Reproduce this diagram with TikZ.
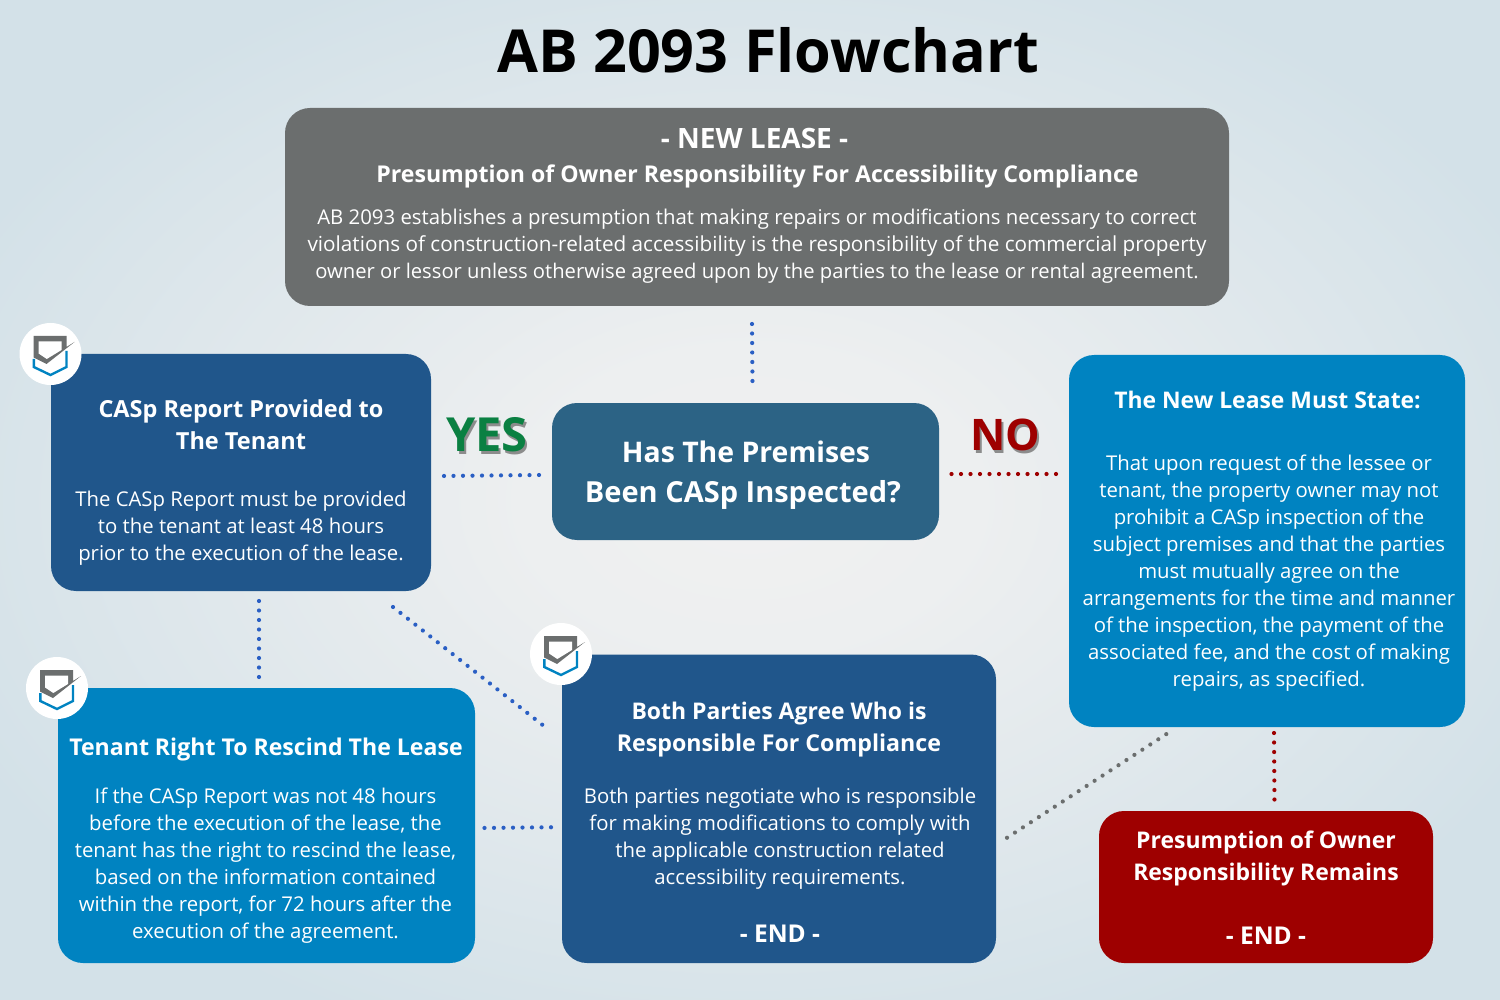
\documentclass[tikz,border=0pt]{standalone}
\usepackage{fontspec}
\setmainfont{Open Sans}
\usetikzlibrary{calc}
\definecolor{bgout}{HTML}{D3E1E8}
\definecolor{bgin}{HTML}{F1F1F1}
\definecolor{greybox}{HTML}{6B6E6E}
\definecolor{tealbox}{HTML}{2C6385}
\definecolor{navybox}{HTML}{20568B}
\definecolor{bluebox}{HTML}{0083C1}
\definecolor{redbox}{HTML}{9E0000}
\definecolor{dotblue}{HTML}{2A5FC4}
\definecolor{yesgreen}{HTML}{0A8042}
\pgfdeclareradialshading{bgshade}{\pgfpoint{0bp}{0bp}}{%
  color(0bp)=(bgin); color(8bp)=(bgin!85!bgout); color(18bp)=(bgin!45!bgout); color(29bp)=(bgout); color(50bp)=(bgout)}
\newcommand{\bodyfs}{\fontsize{20.35}{27}\selectfont}
\newcommand{\linefs}[1]{\fontsize{#1}{27}\selectfont}
\newcommand{\headsize}[1]{\fontsize{#1}{32}\selectfont\bfseries}
\tikzset{
  x=1pt,y=-1pt,
  box/.style={rounded corners=25pt,inner sep=0pt,outer sep=0pt,anchor=north west},
  head/.style={text=white,align=center,inner sep=0pt,font=\headsize{23.1}},
  bodytxt/.style={text=white,align=center,inner sep=0pt,font=\bodyfs},
  dots/.style={line width=4.2pt,line cap=round,dash pattern=on 0pt off 9.5pt},
  badge/.style={circle,fill=white,minimum size=62pt,inner sep=0pt}
}
\newcommand{\logoat}[1]{%
  \begin{scope}[shift={(#1)}]
    \draw[bluebox,line width=2.4pt,line join=miter] (-16.7,5) -- (-16.7,13) -- (0,21) -- (16,13) -- (16,-3);
    \fill[greybox] (-17,-18) -- (16,-18) -- (16,-7) -- (24,-12) -- (-4,10) -- (-17,3.5) -- cycle;
    \fill[white] (-12,-12.5) -- (11,-12.5) -- (11,-4) -- (-3.7,5) -- (-12,-0.5) -- cycle;
  \end{scope}}
\newcommand{\verdictlabel}[5]{%
  \node[inner sep=0pt,font=\fontsize{#5}{50}\selectfont\bfseries,text=black!45] (#4shadow) at (#1+2,#2+2.5) {#4};
  \node[inner sep=0pt,font=\fontsize{#5}{50}\selectfont\bfseries,text=#3] (#4lbl) at (#1,#2) {#4};}
\begin{document}
\begin{tikzpicture}
\useasboundingbox (0,0) rectangle (1500,1000);
\shade[shading=bgshade] (0,0) rectangle (1500,1000);

\node[inner sep=0pt,font=\fontsize{59.3}{64}\selectfont\bfseries] (title) at (768,50) {AB 2093 Flowchart};

% boxes
\node[box,fill=greybox,minimum width=944pt,minimum height=198pt] (lease) at (285,108) {};
\node[box,fill=tealbox,minimum width=387pt,minimum height=137pt] (question) at (552,403) {};
\node[box,fill=navybox,minimum width=380pt,minimum height=237pt] (report) at (51,354) {};
\node[box,fill=bluebox,minimum width=417pt,minimum height=275pt] (rescind) at (58,688) {};
\node[box,fill=navybox,minimum width=434pt,minimum height=308.5pt] (agree) at (562,654.5) {};
\node[box,fill=bluebox,minimum width=396pt,minimum height=372pt] (state) at (1069,355) {};
\node[box,fill=redbox,minimum width=334pt,minimum height=152pt] (remains) at (1099,811) {};

% connector ends
\coordinate (c1a) at ($(lease.south)+(-5,18)$);
\coordinate (c1b) at ($(question.north)+(7,-19)$);
\coordinate (c2a) at ($(question.west)+(-13,3.5)$);
\coordinate (c2b) at ($(report.east)+(9,3.5)$);
\coordinate (c3a) at ($(question.east)+(12.5,2.5)$);
\coordinate (c3b) at ($(state.west)+(-8.5,-67)$);
\coordinate (c4a) at ($(report.south)+(18,10)$);
\coordinate (c4b) at ($(rescind.north)+(-7.5,-9)$);
\coordinate (c5a) at ($(report.south)+(152,16)$);
\coordinate (c5b) at ($(agree.north west)+(-17.5,72)$);
\coordinate (c6a) at ($(agree.west)+(-11,18.5)$);
\coordinate (c6b) at ($(rescind.east)+(5,2.5)$);
\coordinate (c7a) at ($(agree.east)+(11,29)$);
\coordinate (c7b) at ($(state.south)+(-99,6)$);
\coordinate (c8a) at ($(state.south)+(7,6)$);
\coordinate (c8b) at ($(remains.north)+(8.5,-8)$);

\draw[dots,dotblue] (c1a) -- (c1b);
\draw[dots,dotblue] (c2a) -- (c2b);
\draw[dots,redbox] (c3a) -- (c3b);
\draw[dots,dotblue] (c4a) -- (c4b);
\draw[dots,dotblue] (c5a) -- (c5b);
\draw[dots,dotblue] (c6a) -- (c6b);
\draw[dots,greybox] (c7a) -- (c7b);
\draw[dots,redbox] (c8a) -- (c8b);

% labels
\verdictlabel{487}{435}{yesgreen}{YES}{47}
\verdictlabel{1005}{435}{redbox}{NO}{43.5}

% lease text
\node[head,font=\headsize{28}] (t1) at (754.5,139) {- NEW LEASE -};
\node[head] (t2) at (757.5,176) {Presumption of Owner Responsibility For Accessibility Compliance};
\node[bodytxt] (t3) at (757,246) {AB 2093 establishes a presumption that making repairs or modifications necessary to correct\\\linefs{20.72}violations of construction-related accessibility is the responsibility of the commercial property\\\linefs{20.2}owner or lessor unless otherwise agreed upon by the parties to the lease or rental agreement.};

% question
\node[head,font=\fontsize{28.4}{40}\selectfont\bfseries] (t4) at (743,475) {\hspace*{6pt}Has The Premises\\\fontsize{29}{40}\selectfont Been CASp Inspected?};

% report
\node[head,font=\headsize{23.5}] (t5) at (241,425) {CASp Report Provided to\\The Tenant};
\node[bodytxt] (t6) at (241,528) {The CASp Report must be provided\\to the tenant at least 48 hours\\prior to the execution of the lease.};

% rescind
\node[head] (t7) at (266,749) {Tenant Right To Rescind The Lease};
\node[bodytxt] (t8) at (265.5,865.5) {If the CASp Report was not 48 hours\\before the execution of the lease, the\\tenant has the right to rescind the lease,\\based on the information contained\\within the report, for 72 hours after the\\execution of the agreement.};

% agree
\node[head,font=\headsize{22.95}] (t9) at (779,730) {Both Parties Agree Who is\\\headsize{23.2}Responsible For Compliance};
\node[bodytxt] (t10) at (780,838.5) {Both parties negotiate who is responsible\\for making modifications to comply with\\the applicable construction related\\accessibility requirements.};
\node[head,font=\headsize{24.5}] (t11) at (780,934) {- END -};

% state
\node[head,font=\headsize{22.9}] (t12) at (1267.5,400) {The New Lease Must State:};
\node[bodytxt] (t13) at (1269,573.5) {That upon request of the lessee or\\tenant, the property owner may not\\prohibit a CASp inspection of the\\subject premises and that the parties\\must mutually agree on the\\arrangements for the time and manner\\of the inspection, the payment of the\\associated fee, and the cost of making\\repairs, as specified.};

% remains
\node[head,font=\headsize{22.95}] (t14) at (1266,858) {Presumption of Owner\\Responsibility Remains};
\node[head,font=\headsize{24.5}] (t15) at (1266,936) {- END -};

% badges
\node[badge] (b1) at (50.5,354) {};
\node[badge] (b2) at (57,688) {};
\node[badge] (b3) at (561,654) {};
\logoat{b1}
\logoat{b2}
\logoat{b3}
\end{tikzpicture}
\end{document}
